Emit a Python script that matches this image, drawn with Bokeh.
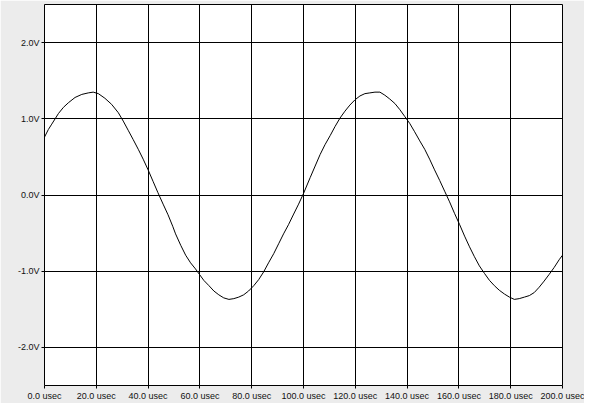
from bokeh.plotting import figure
from bokeh.models import FixedTicker, PrintfTickFormatter, Range1d
from bokeh.embed import file_html
from bokeh.resources import INLINE

# time in microseconds, voltage in volts
t_usec = [0.0, 1.5, 2.8, 4.1, 5.4, 7.3, 9.2, 11.8, 14.4, 16.9, 18.8, 20.8, 23.3,
          25.9, 28.5, 30.4, 32.3, 34.2, 36.2, 38.1, 40.0, 41.9, 43.8, 45.8, 47.7,
          49.5, 50.6, 52.6, 54.5, 56.4, 58.3, 60.0, 61.5, 63.5, 65.4, 67.3, 69.2,
          71.2, 73.1, 75.0, 76.9, 78.8, 80.8, 82.7, 84.6, 86.5, 88.5, 90.4, 92.3,
          94.2, 96.2, 98.1, 100.0, 102.6, 104.5, 106.4, 108.3, 110.3, 112.2, 114.1,
          116.0, 117.9, 119.9, 121.8, 123.7, 125.6, 127.6, 129.5, 131.4, 133.3,
          135.3, 137.2, 139.1, 141.0, 142.9, 144.9, 146.8, 148.7, 150.6, 152.6,
          154.5, 156.4, 158.3, 160.3, 162.2, 164.1, 166.0, 167.9, 169.9, 171.8,
          173.7, 175.6, 177.6, 179.5, 181.4, 183.3, 185.3, 187.2, 189.1, 191.0,
          192.9, 194.9, 196.8, 198.7, 200.0]
volts = [0.76, 0.86, 0.93, 1.00, 1.07, 1.15, 1.21, 1.28, 1.32, 1.34, 1.35, 1.33, 1.27,
         1.19, 1.08, 0.97, 0.85, 0.73, 0.60, 0.47, 0.33, 0.18, 0.03, -0.12, -0.26,
         -0.41, -0.51, -0.66, -0.79, -0.89, -0.97, -1.05, -1.12, -1.19, -1.26, -1.31, -1.35,
         -1.37, -1.36, -1.34, -1.31, -1.26, -1.19, -1.11, -1.01, -0.89, -0.77, -0.64, -0.51,
         -0.39, -0.25, -0.12, 0.02, 0.23, 0.38, 0.53, 0.66, 0.78, 0.90, 1.01,
         1.10, 1.18, 1.25, 1.30, 1.33, 1.34, 1.35, 1.35, 1.31, 1.26,
         1.20, 1.12, 1.03, 0.94, 0.83, 0.71, 0.60, 0.47, 0.33, 0.19,
         0.05, -0.09, -0.24, -0.39, -0.54, -0.68, -0.81, -0.93, -1.03, -1.12,
         -1.19, -1.25, -1.30, -1.34, -1.37, -1.36, -1.34, -1.32, -1.28, -1.21,
         -1.13, -1.04, -0.95, -0.85, -0.79]

x_ticks = [0, 20, 40, 60, 80, 100, 120, 140, 160, 180, 200]
y_ticks = [-2, -1, 0, 1, 2]

p = figure(width=584, height=403, output_backend="svg", toolbar_location=None,
           x_range=Range1d(0, 200), y_range=Range1d(-2.5, 2.5),
           min_border_left=44, min_border_right=22, min_border_top=4,
           min_border_bottom=16)
p.background_fill_color = "white"
p.border_fill_color = "#ececec"
p.outline_line_color = "black"
p.outline_line_width = 1

p.line(t_usec, volts, line_color="black", line_width=1)

for ax in (p.xaxis[0], p.yaxis[0]):
    ax.axis_line_color = None
    ax.major_tick_in = 0
    ax.major_tick_out = 3
    ax.major_tick_line_color = "black"
    ax.minor_tick_line_color = None
    ax.major_label_text_font = "Liberation Sans"
    ax.major_label_text_font_size = "9px"
    ax.major_label_text_color = "#111111"
    ax.major_label_standoff = 2

p.xaxis[0].ticker = FixedTicker(ticks=x_ticks)
p.xaxis[0].formatter = PrintfTickFormatter(format="%.1f usec")
p.yaxis[0].ticker = FixedTicker(ticks=y_ticks)
p.yaxis[0].formatter = PrintfTickFormatter(format="%.1fV")

p.xgrid[0].ticker = FixedTicker(ticks=x_ticks)
p.ygrid[0].ticker = FixedTicker(ticks=y_ticks)
for g in (p.xgrid[0], p.ygrid[0]):
    g.grid_line_color = "black"
    g.grid_line_width = 1
    g.grid_line_alpha = 1.0

open("out.html", "w").write(file_html(p, INLINE))
